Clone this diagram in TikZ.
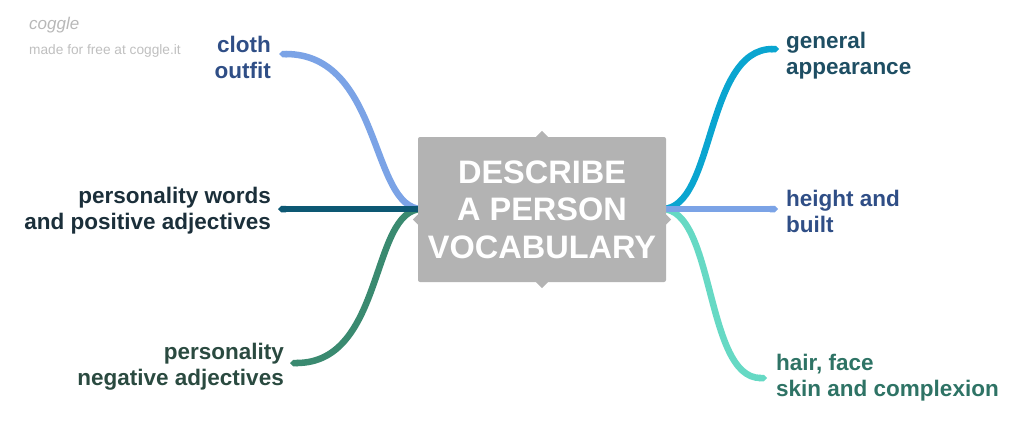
\documentclass[tikz,border=0pt]{standalone}
\usepackage{fontspec}
\setmainfont{Liberation Sans}
\usepackage{tikz}
\usetikzlibrary{arrows.meta}
\definecolor{boxgray}{HTML}{B3B3B3}
\definecolor{clothblue}{HTML}{7BA3E6}
\definecolor{wordsteal}{HTML}{0D5873}
\definecolor{neggreen}{HTML}{3A8A70}
\definecolor{genblue}{HTML}{0AA5D0}
\definecolor{hairturq}{HTML}{66D9C4}
\definecolor{txtblue}{HTML}{2F4E86}
\definecolor{txtdark}{HTML}{1B2F3A}
\definecolor{txtgreen}{HTML}{2A4A40}
\definecolor{txtteal}{HTML}{1E4E63}
\definecolor{txthair}{HTML}{2E7365}

\begin{document}
\begin{tikzpicture}[x=1pt,y=-1pt]
\tikzset{
box/.style={ rectangle , rounded corners=2pt ,
minimum width=248pt , minimum height=145pt , inner sep=0pt ,
fill=boxgray , text=white , align=center ,
font=\bfseries\fontsize{32.5}{37.5}\selectfont },
leaf/.style={ inner sep=0pt , font=\bfseries\fontsize{22.5}{26}\selectfont },
branch/.style={ line width=6.5pt , -{Triangle Cap[]} }
}
\useasboundingbox (0,0) rectangle (1024,437);

% logo
\node[anchor=west,inner sep=0pt,text=black!28,font=\itshape\fontsize{17}{19}\selectfont] (logo) at (29,25) {coggle};
\node[anchor=west,inner sep=0pt,text=black!25,font=\fontsize{13.7}{15}\selectfont] (madefor) at (29,51) {made for free at coggle.it};

% end points of the branches
\coordinate (clothtip) at (279,54);
\coordinate (wordstip) at (278,209);
\coordinate (negtip) at (290,363);
\coordinate (gentip) at (779,49);
\coordinate (heighttip) at (778,209);
\coordinate (hairtip) at (767,378);

% labels
\node[leaf,anchor=east,align=right,text=txtblue] (cloth) at (271,57) {cloth\\outfit};
\node[leaf,anchor=east,align=right,text=txtdark] (words) at (271,211) {personality words\\and positive adjectives};
\node[leaf,anchor=east,align=right,text=txtgreen] (neg) at (284,367) {personality\\negative adjectives};
\node[leaf,anchor=west,align=left,text=txtteal] (gen) at (786,56) {general\\appearance};
\node[leaf,anchor=west,align=left,text=txtblue] (height) at (786,211) {height and\\built};
\node[leaf,anchor=west,align=left,text=txthair] (hair) at (776,378) {hair, face\\skin and complexion};

% branches
\coordinate (left) at (422,209);
\coordinate (right) at (662,209);
\draw[branch,clothblue] (left) .. controls (370,209) and (382,54) .. (clothtip);
\draw[branch,neggreen] (left) .. controls (370,209) and (385,363) .. (negtip);
\draw[branch,wordsteal] (left) -- (wordstip);
\draw[branch,genblue] (right) .. controls (715,209) and (705,49) .. (gentip);
\draw[branch,hairturq] (right) .. controls (715,209) and (705,378) .. (hairtip);
\draw[branch,clothblue] (right) -- (heighttip);

% central topic
\node[box] (topic) at (542,209.5) {DESCRIBE\\A PERSON\\VOCABULARY};
\fill[boxgray] ([xshift=-6pt]topic.north) -- ++(6,-6) -- ++(6,6) -- cycle;
\fill[boxgray] ([xshift=-6pt]topic.south) -- ++(6,6) -- ++(6,-6) -- cycle;
\fill[boxgray] ([yshift=-5pt]topic.west) -- ++(-5,5) -- ++(5,5) -- cycle;
\fill[boxgray] ([yshift=-5pt]topic.east) -- ++(5,5) -- ++(-5,5) -- cycle;
\end{tikzpicture}
\end{document}
